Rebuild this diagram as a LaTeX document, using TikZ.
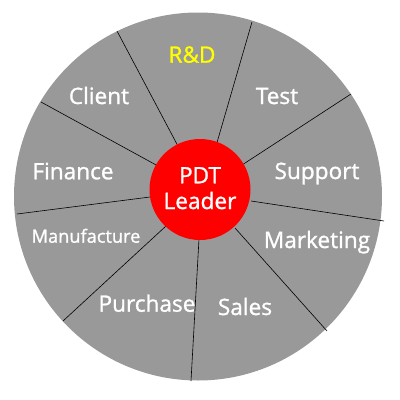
\documentclass[tikz,border=0pt]{standalone}
\usepackage{fontspec}
\setmainfont{Open Sans}
\newfontfamily\lblfont{Open Sans}[FakeBold=1.2]
\begin{document}
\begin{tikzpicture}[x=1pt,y=-1pt,
  divider/.style={draw=black,line width=0.6pt},
  lbl/.style={anchor=base,text=white,inner sep=0pt,font=\lblfont\fontsize{22.6}{26}\selectfont},
  smalllbl/.style={lbl,font=\lblfont\fontsize{18.2}{20}\selectfont}]
\useasboundingbox[fill=white] (0,0) rectangle (400,400);
\definecolor{wheelgray}{RGB}{153,153,153}
\node[circle,fill=wheelgray,minimum size=368pt,inner sep=0pt] (wheel) at (198,196.5) {};
% outer endpoints
\coordinate (o1) at (117,31);
\coordinate (o2) at (252,22);
\coordinate (o3) at (351,94);
\coordinate (o4) at (384,221);
\coordinate (o5) at (327,331);
\coordinate (o6) at (191,381);
\coordinate (o7) at (63,321);
\coordinate (o8) at (17,214);
\coordinate (o9) at (41,102);
% inner endpoints
\coordinate (i1) at (179,148);
\coordinate (i2) at (216,146);
\coordinate (i3) at (242,165);
\coordinate (i4) at (251,201);
\coordinate (i5) at (235,228);
\coordinate (i6) at (199,239);
\coordinate (i7) at (166,226);
\coordinate (i8) at (150,197);
\coordinate (i9) at (158,166);
\foreach \k in {1,...,9} {\draw[divider] (o\k) -- (i\k);}
\node[circle,fill=red,minimum size=101pt,inner sep=0pt] (leader) at (200,189.5) {};
\node[lbl] (pdt) at (200,183.3) {PDT};
\node[lbl] (ldr) at (200,209) {Leader};
\node[lbl,text={rgb,255:red,255;green,255;blue,0}] (rd) at (192,62.7) {R\&D};
\node[lbl] (client) at (99,104) {Client};
\node[lbl] (test) at (277,104) {Test};
\node[lbl] (finance) at (73,179.3) {Finance};
\node[lbl] (support) at (317,179) {Support};
\node[smalllbl] (manuf) at (86,242.7) {Manufacture};
\node[lbl] (marketing) at (317,248) {Marketing};
\node[lbl] (purchase) at (147,311.7) {Purchase};
\node[lbl] (sales) at (245,315) {Sales};
\end{tikzpicture}
\end{document}
